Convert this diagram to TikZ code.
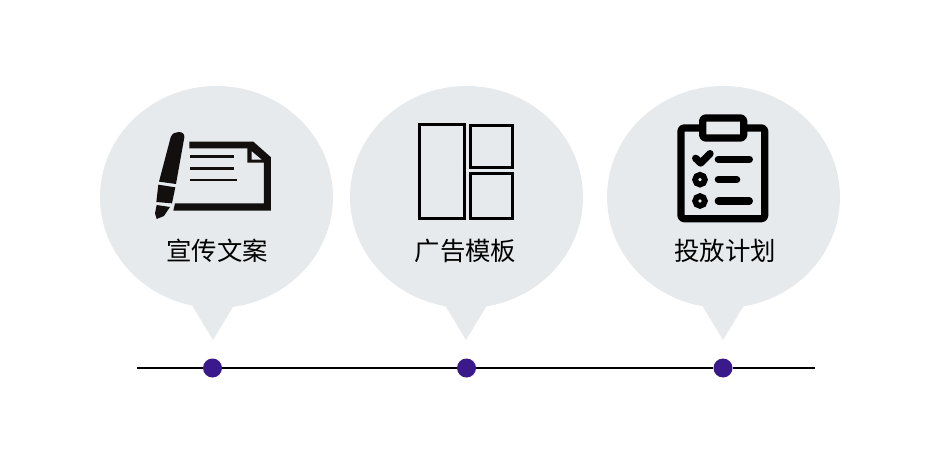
\documentclass[tikz,border=0pt]{standalone}
\usepackage{fontspec}
\setmainfont{Noto Sans CJK SC}
\usetikzlibrary{shapes.geometric}
\definecolor{bubble_gray}{HTML}{E6EAED}
\definecolor{dot_purple}{HTML}{3A1A8A}
\definecolor{icon_black}{HTML}{130F0E}

\begin{document}
\begin{tikzpicture}[x=1pt,y=-1pt,
	bubble_node/.style={ellipse,fill=bubble_gray,minimum width=233pt,minimum height=222pt,inner sep=0pt},
	tail_shape/.style={fill=bubble_gray},
	dot_node/.style={circle,fill=dot_purple,minimum size=19pt,inner sep=0pt},
	label_node/.style={font=\fontsize{25.4pt}{28pt}\selectfont,inner sep=0pt,text=black},
	panel_box/.style={draw=black,line width=3pt,inner sep=0pt},
	clip_line/.style={draw=black,line width=7.3pt,line cap=round,line join=round}]

	\useasboundingbox (0,0) rectangle (942,468);

		% speech bubbles
		\node[bubble_node] (b1) at (216.5,197){};
		\node[bubble_node] (b2) at (466.5,197){};
		\node[bubble_node] (b3) at (723.5,197){};

		% tails of the bubbles
		\coordinate (t1) at (213,340);
		\coordinate (t2) at (466,340);
		\coordinate (t3) at (723,340);
		\fill[tail_shape] (t1) -- (190,302) -- (236,302) -- cycle;
		\fill[tail_shape] (t2) -- (443,302) -- (489,302) -- cycle;
		\fill[tail_shape] (t3) -- (700,302) -- (746,302) -- cycle;

		% timeline
		\coordinate (start) at (137,368);
		\coordinate (end) at (815,368);
		\node[dot_node] (d1) at (212.5,368){};
		\node[dot_node] (d2) at (466.5,368){};
		\node[dot_node] (d3) at (723,368){};
		\path[draw,line width=1.8pt] (start) -- (d1) (d1) -- (d2) (d2) -- (d3) (d3) -- (end);

		% labels
		\node[label_node] (l1) at (217,250.5){宣传文案};
		\node[label_node] (l2) at (465.5,250.5){广告模板};
		\node[label_node] (l3) at (725,250.5){投放计划};

		% pen and paper
		\begin{scope}[shift={(140,120)},x=0.3333pt,y=-0.3333pt]
			\fill[icon_black] (57,185) -- (92,52) .. controls (96,40) and (106,36) .. (116,36) .. controls (128,36) and (134,42) .. (133,52) -- (108,192) -- cycle;
			\fill[icon_black] (55,194) -- (106,202) -- (96,250) -- (49,246) -- cycle;
			\fill[icon_black] (50,255) -- (90,261) -- (72,288) -- (50,297) -- (45,280) -- cycle;
			\fill[icon_black] (148,65) -- (340,65) -- (393,112) -- (393,272) -- (100,272) -- (105,250) -- (372,250) -- (372,128) -- (322,128) -- (322,85) -- (148,85) -- cycle;
			\fill[bubble_gray] (335,94) -- (365,119) -- (335,119) -- cycle;
			\fill[icon_black] (150,106) rectangle (282,114);
			\fill[icon_black] (150,141) rectangle (282,149);
			\fill[icon_black] (150,176) rectangle (292,184);
		\end{scope}

		% layout panels
		\node[panel_box,minimum width=45pt,minimum height=93pt] (p1) at (442,171.5){};
		\node[panel_box,minimum width=42pt,minimum height=42pt] (p2) at (491.5,146.5){};
		\node[panel_box,minimum width=42pt,minimum height=45pt] (p3) at (491.5,195.5){};

		% clipboard
		\begin{scope}[shift={(660,105)},x=0.3333pt,y=-0.3333pt]
			\draw[clip_line,rounded corners=3pt] (63,69) rectangle (314,341);
			\draw[clip_line,fill=bubble_gray,rounded corners=3pt] (128,39) rectangle (251,99);
			\draw[clip_line] (107,160) -- (122,174) -- (150,146);
			\draw[clip_line] (175,163) -- (268,163);
			\draw[clip_line] (175,224) -- (230,224);
			\draw[clip_line] (175,288) -- (268,288);
			\draw[black,line width=5.8pt,fill=bubble_gray] (120,224) circle (14.5);
			\draw[black,line width=5.8pt,fill=bubble_gray] (120,288) circle (14.5);
		\end{scope}

\end{tikzpicture}
\end{document}
